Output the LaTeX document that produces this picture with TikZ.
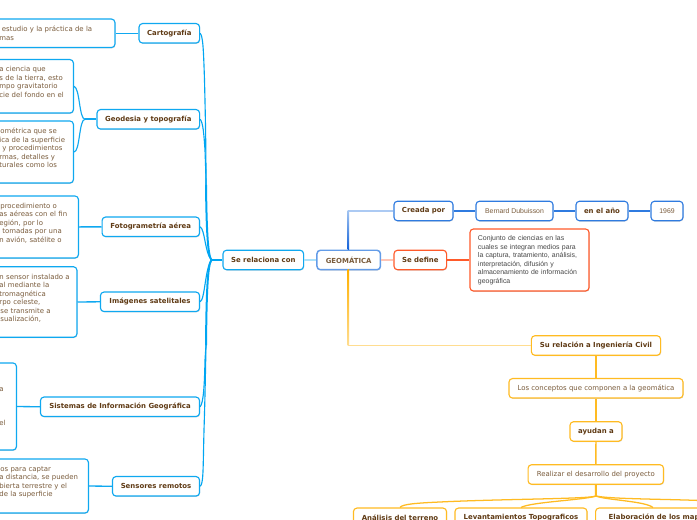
\documentclass[tikz,border=0pt]{standalone}
\usepackage{fontspec}
\setmainfont{DejaVu Sans}
\newfontfamily\arialf{Liberation Sans}
\usetikzlibrary{shadows}
\newdimen\pxu \pxu=0.75pt
\newcommand{\lineat}[2]{\hspace*{#1\pxu}#2}
\definecolor{cbrown}{HTML}{5F3A14}
\definecolor{lbrown}{HTML}{7A5C3C}
\definecolor{cblue}{HTML}{0FA8F0}
\definecolor{ctrunk}{HTML}{00A6F2}
\definecolor{croy}{HTML}{2F7BE0}
\definecolor{cred}{HTML}{FF5A2A}
\definecolor{cyel}{HTML}{FFBB22}
\definecolor{deepb}{HTML}{1060D8}
\definecolor{deepy}{HTML}{FFB000}
\tikzset{
  basebox/.style={rectangle,rounded corners=2.6pt,line width=0.85pt,fill=white,inner sep=0pt,
     drop shadow={shadow xshift=0.4pt,shadow yshift=-0.6pt,opacity=.15,fill=black}},
  topic/.style={basebox,font=\fontsize{5.2}{6.4}\selectfont\bfseries,text=cbrown,minimum height=14.6pt},
  sidetopic/.style={topic,draw=cblue},
  leaf/.style={basebox,draw=cblue,anchor=east,align=left,font=\fontsize{5.2}{6.38}\selectfont,text=lbrown},
  plainy/.style={topic,draw=cyel,font=\fontsize{5.2}{6.4}\selectfont,text=lbrown},
  boldy/.style={topic,draw=cyel},
  side/.style={line width=0.85pt,ctrunk},
  fan/.style={line width=0.95pt,cyel}
}
\begin{document}
\begin{tikzpicture}[x=0.75pt,y=-0.75pt]
\useasboundingbox (0,0) rectangle (697,520);
\clip (0,0) rectangle (697,520);
\fill[white] (0,0) rectangle (697,520);

% junctions
\coordinate (hub) at (211.5,260);
\coordinate (gfan) at (85,119.3);
\coordinate (bend1) at (348,211);
\coordinate (bend2) at (348,345.5);
\coordinate (yfan) at (596,496);
\coordinate (offr) at (700,500.5);
\coordinate (elab) at (653,507.5);

% left side nodes
\node[sidetopic,minimum width=45.4pt] (cart) at (169.3,33.3) {Cartografía};
\node[sidetopic,minimum width=76.9pt] (geo) at (148.3,119.3) {Geodesia y topografía};
\node[sidetopic,minimum width=73.1pt] (foto) at (150.8,226.8) {Fotogrametría aérea};
\node[sidetopic,minimum width=74.3pt] (ima) at (150,301.8) {Imágenes satelitales};
\node[sidetopic,minimum width=119.3pt] (sig) at (120,406.8) {Sistemas de Información Geográfica};
\node[sidetopic,minimum width=65.3pt] (sen) at (156,486.3) {Sensores remotos};
\node[sidetopic,minimum width=60.4pt] (rel) at (263.3,260) {Se relaciona con};

\node[leaf,minimum height=21.4pt,text width=101.6pt] (b1) at (115.5,33.3) {\lineat{22.5}{estudio y la práctica de la}\\\lineat{20}{mas}};
\node[leaf,minimum height=40.1pt,text width=70.5pt] (b2) at (74,86.3) {\lineat{20}{a ciencia que}\\\lineat{20}{s de la tierra, esto}\\\lineat{20}{mpo gravitatorio}\\\lineat{20}{cie del fondo en el}\\\mbox{}};
\node[leaf,minimum height=46.5pt,text width=70.5pt] (b3) at (74,152) {\lineat{21}{ométrica que se}\\\lineat{20}{ica de la superficie}\\\lineat{23}{y procedimientos}\\\lineat{20}{rmas, detalles y}\\\lineat{20}{turales como los}\\\mbox{}};
\node[leaf,minimum height=46.5pt,text width=74.3pt] (b4) at (79,227) {\lineat{21}{procedimiento o}\\\lineat{20}{as aéreas con el fin}\\\lineat{20}{egión, por lo}\\\lineat{23}{tomadas por una}\\\lineat{20}{n avión, satélite o}\\\mbox{}};
\node[leaf,minimum height=52.9pt,text width=73.1pt] (b5) at (77.5,302) {\lineat{20}{n sensor instalado a}\\\lineat{20}{al mediante la}\\\lineat{20}{tromagnética}\\\lineat{20}{rpo celeste,}\\\lineat{21}{se transmite a}\\\lineat{21}{sualización,}\\\mbox{}};
\node[leaf,minimum height=65.3pt,text width=27.8pt] (b6) at (17,406.5) {\lineat{20}{a}\\\mbox{}\\\mbox{}\\\mbox{}\\\lineat{20}{el}};
\node[leaf,minimum height=40.5pt,text width=81.8pt] (b7) at (89,486) {\lineat{21}{os para captar}\\\lineat{20}{a distancia, se pueden}\\\lineat{20}{bierta terrestre y el}\\\lineat{20}{de la superficie}\\\mbox{}};

% centre and right nodes
\node[topic,draw=croy!75,line width=1.1pt,minimum width=47.6pt,text=lbrown] (geom) at (348.7,260) {GEOMÁTICA};
\node[topic,draw=croy,minimum width=44.3pt] (crea) at (423.5,211) {Creada por};
\node[topic,draw=cred,minimum width=39.4pt] (defi) at (420.3,260) {Se define};
\node[topic,draw=croy,minimum width=57.8pt,font=\fontsize{5.15}{6.4}\selectfont\arialf,text=lbrown] (bern) at (514.5,211) {Bernard Dubuisson};
\node[topic,draw=croy,minimum width=39pt] (anio) at (602,211) {en el año};
\node[topic,draw=croy,minimum width=24pt,font=\fontsize{5.15}{6.4}\selectfont\arialf,text=lbrown] (yr) at (667,211) {1969};
\node[basebox,draw=cred,anchor=center,minimum width=89.3pt,minimum height=46.5pt,align=left,text width=77.3pt,font=\fontsize{5.2}{6.38}\selectfont\arialf,text=black!72] (conj) at (529.5,260) {Conjunto de ciencias en las\\cuales se integran medios para\\la captura, tratamiento, análisis,\\interpretación, difusión y\\almacenamiento de información\\geográfica};
\node[boldy,minimum width=96.9pt] (ing) at (596,345.5) {Su relación a Ingeniería Civil};
\node[plainy,minimum width=130.5pt] (conc) at (596,388.3) {Los conceptos que componen a la geomática};
\node[boldy,minimum width=39pt] (ayu) at (596,431.5) {ayudan a};
\node[plainy,minimum width=101.6pt] (real) at (595.8,474.5) {Realizar el desarrollo del proyecto};
\node[boldy,minimum width=69.8pt,anchor=north] (ana) at (400,507.5) {Análisis del terreno};
\node[boldy,minimum width=99pt,anchor=north] (lev) at (521,507.5) {Levantamientos Topograficos};
\node[boldy,minimum width=94.5pt,anchor=north west] (ela) at (595,507.5) {Elaboración de los mapas};

% connectors, left side
\draw[side] (cart.east) .. controls (203,36) and (203.5,50) .. (204.5,80) .. controls (205.5,120) and (206,150) .. (206,185);
\draw[side] (geo.east) .. controls (203,122) and (204,135) .. (205,150) .. controls (205.5,165) and (206,175) .. (206,185);
\draw[line width=1.5pt,ctrunk] (206,185) .. controls (206.5,225) and (207.5,256) .. (hub);
\draw[line width=1.5pt,ctrunk] (206,345) .. controls (206.5,295) and (207.5,264) .. (hub);
\draw[side] (foto.east) .. controls (205,229) and (205,254) .. (hub);
\draw[side] (ima.east) .. controls (205,300) and (205,268) .. (hub);
\draw[side] (sig.east) .. controls (203.5,403) and (204.5,385) .. (205,360) -- (206,345);
\draw[side] (sen.east) .. controls (203.5,484) and (203,470) .. (204,430) .. controls (205,400) and (205.5,370) .. (206,345);
\draw[line width=1.5pt,ctrunk] (hub) -- (rel.west);
\draw[line width=1pt,cblue] (cart.west) -- (b1.east);
\draw[line width=1.2pt,cblue] (geo.west) -- (gfan);
\draw[side,cblue] (gfan) .. controls (79,119) and (80,88) .. (b2.east);
\draw[side,cblue] (gfan) .. controls (79,119) and (80,152) .. (b3.east);
\draw[line width=1.1pt,cblue] (foto.west) -- (b4.east);
\draw[line width=1pt,cblue] (ima.west) -- (b5.east);
\draw[line width=1pt,cblue] (sig.west) -- (b6.east);
\draw[line width=1pt,cblue] (sen.west) -- (b7.east);

% connectors, centre and right
\draw[line width=1.2pt,cblue!35] (rel.east) -- (geom.west);
\draw[line width=1.2pt,cred!35] (geom.east) -- (defi.west);
\draw[line width=1.1pt,color=croy!40] (geom.north) -- (geom.north |- crea.west) -- (crea.west);
\shade[top color=croy!45,bottom color=deepb] (347.6,211) rectangle (349.2,250);
\draw[line width=1.1pt,color=cyel!50] (geom.south) -- (geom.south |- ing.west) -- (ing.west);
\shade[top color=deepy,bottom color=cyel!50] (347.6,270) rectangle (349.2,345.5);
\draw[line width=1.5pt,croy] (crea.east) -- (bern.west);
\draw[line width=1.5pt,croy] (bern.east) -- (anio.west);
\draw[line width=1.5pt,croy] (anio.east) -- (yr.west);
\draw[line width=1.1pt,cred] (defi.east) -- (conj.west);
\draw[line width=1.1pt,cyel] (ing.south) -- (conc.north);
\draw[line width=1.1pt,cyel] (conc.south) -- (ayu.north);
\draw[line width=1.1pt,cyel] (ayu.south) -- (real.north);
\draw[line width=1.5pt,cyel] (real.south) -- (yfan);
\draw[fan] (yfan) .. controls (590,499) and (500,499) .. (440,502) .. controls (418,503) and (402,504) .. (ana.north);
\draw[fan] (yfan) .. controls (585,500) and (530,502) .. (lev.north);
\draw[fan] (yfan) .. controls (605,500) and (645,501) .. (elab);
\draw[fan] (yfan) .. controls (610,499) and (660,499) .. (offr);
\end{tikzpicture}
\end{document}
